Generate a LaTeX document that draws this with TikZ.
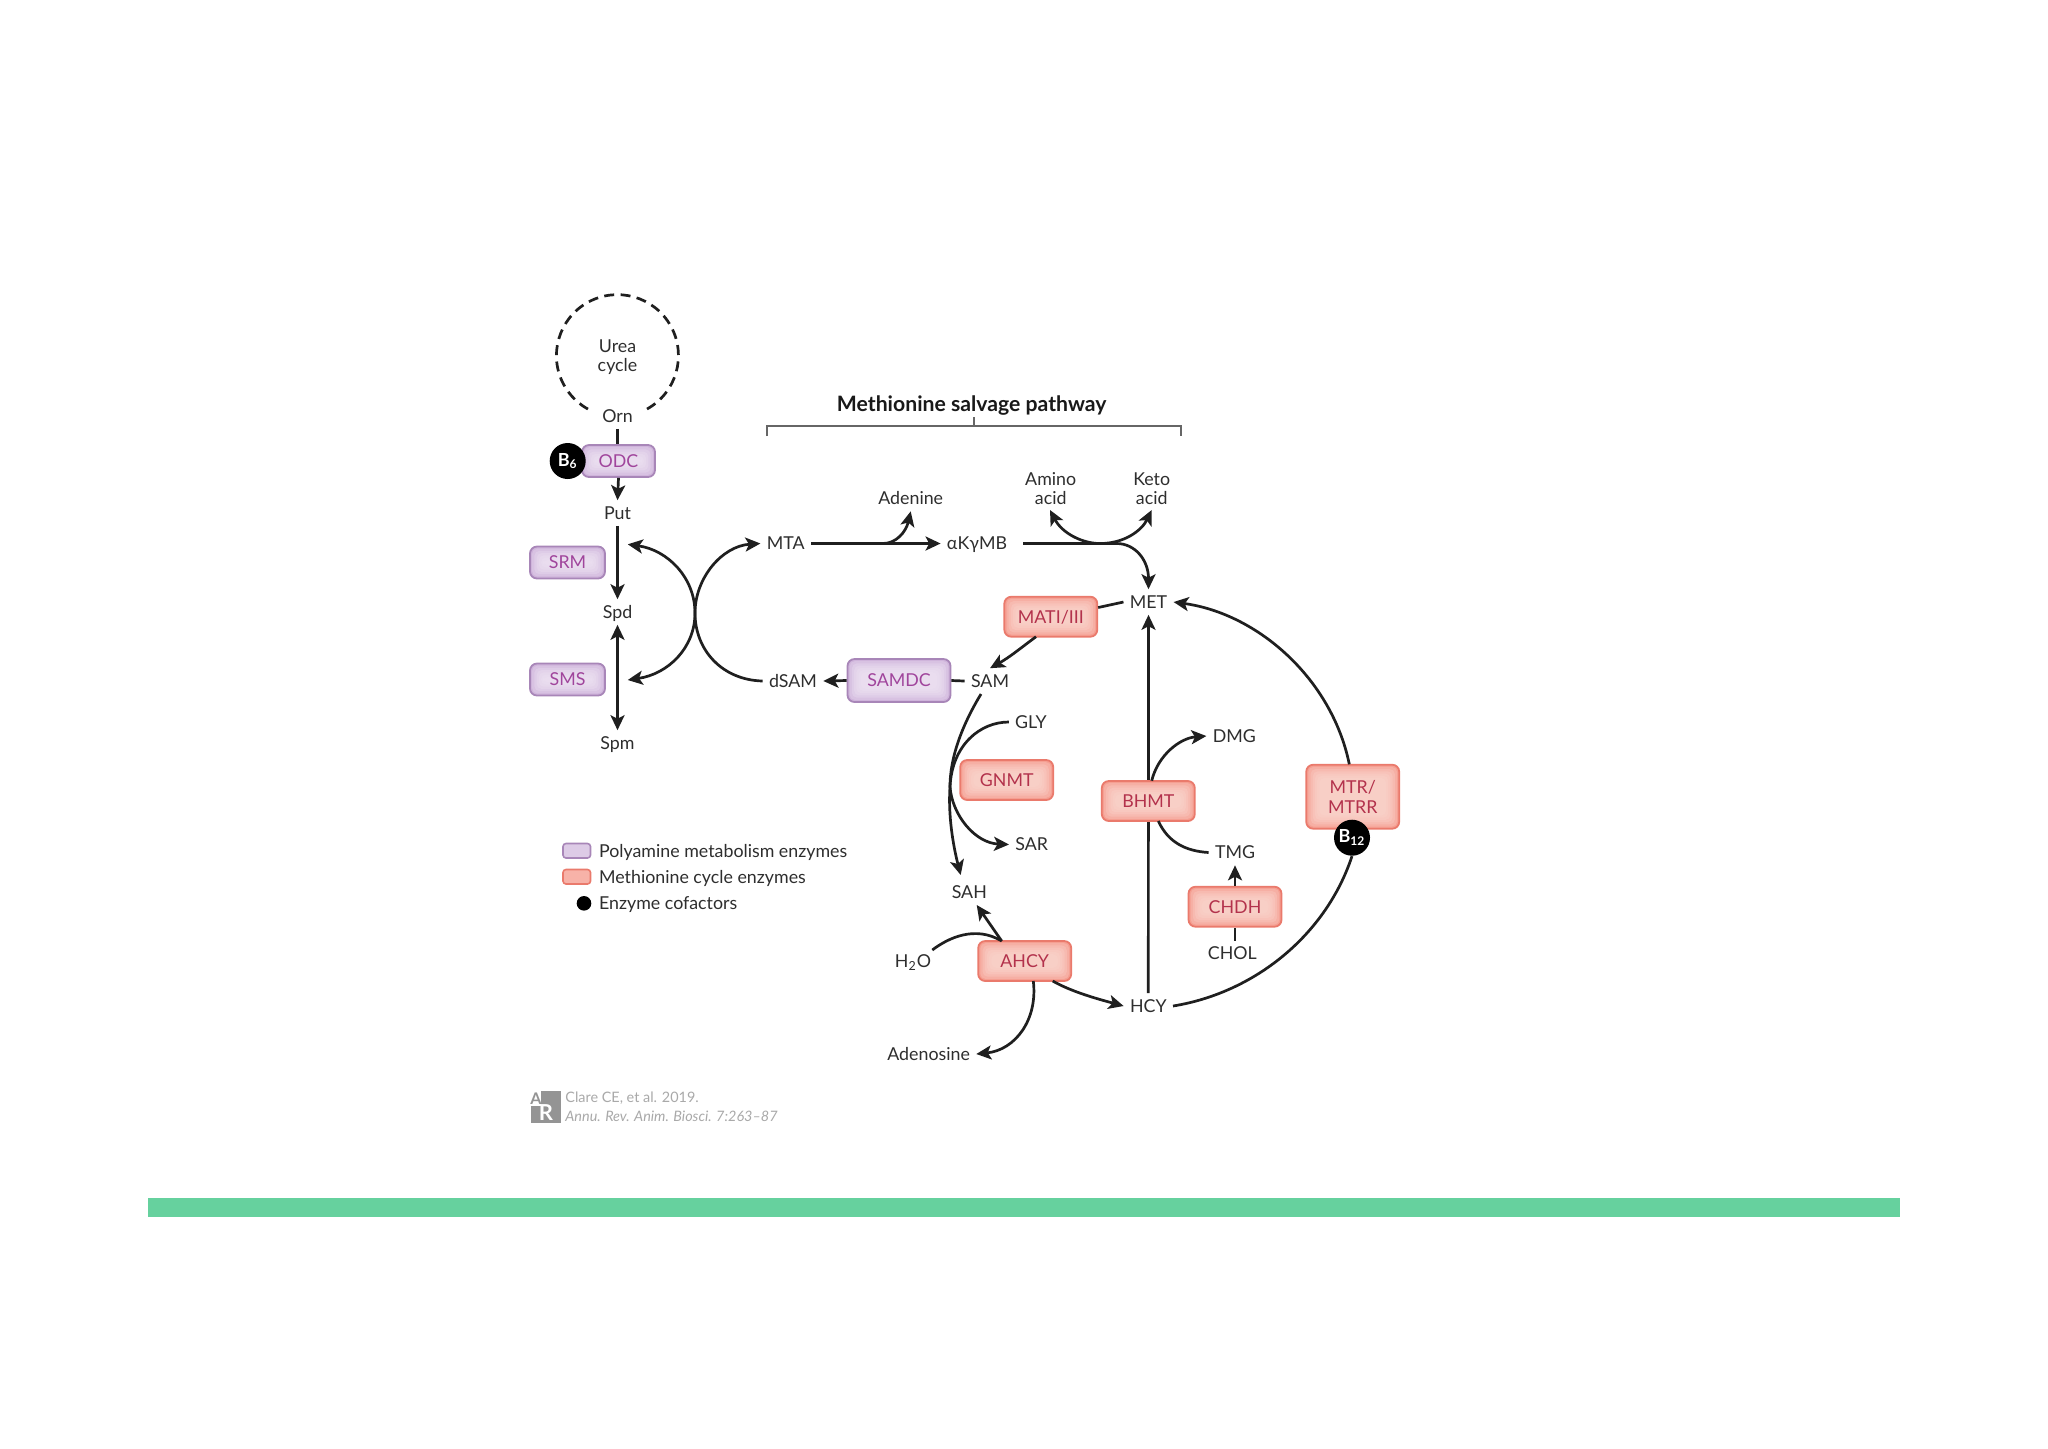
\documentclass[tikz,border=0pt]{standalone}
\usepackage{fontspec}
\setmainfont{Lato}
\usetikzlibrary{arrows.meta}
\definecolor{txt}{HTML}{2E2E2E}
\definecolor{metB}{HTML}{EA7A6C}
\definecolor{metE}{HTML}{F59F92}
\definecolor{metC}{HTML}{FBD6CE}
\definecolor{metT}{HTML}{B3324C}
\definecolor{polB}{HTML}{A886B8}
\definecolor{polE}{HTML}{CFB4DB}
\definecolor{polC}{HTML}{EFE4F3}
\definecolor{polT}{HTML}{A0459C}
\definecolor{bar}{HTML}{66D19E}
\definecolor{capt}{HTML}{A9A9A9}
\tikzset{
  sg/.style={text height=6.4pt, text depth=0pt},
  lblm/.style={font=\fontsize{8.9}{9.6}\selectfont, text=txt, inner sep=3pt, align=center},
  lbl/.style={lblm, sg},
  glow/.style n args={2}{path picture={
    \foreach \i in {1,...,6}{
      \fill[#1,opacity=.3,rounded corners=2.5pt]
        ([shift={(\i*1.1pt,-\i*1.1pt)}]path picture bounding box.north west) rectangle
        ([shift={(-\i*1.1pt,\i*1.1pt)}]path picture bounding box.south east);
    }}},
  enz/.style={draw=metB, fill=metE, line width=.9pt, rounded corners=3.5pt, glow={metC}{},
     font=\fontsize{8.9}{9.8}\selectfont, text=metT, align=center, inner sep=0pt},
  pol/.style={draw=polB, fill=polE, line width=.9pt, rounded corners=3.5pt, glow={polC}{},
     font=\fontsize{8.9}{9.8}\selectfont, text=polT, align=center, inner sep=0pt},
  cof/.style={circle, fill=black, text=white, inner sep=0pt, minimum size=18pt,
     font=\bfseries\fontsize{9}{9}\selectfont},
  conn/.style={draw=black!88, line width=1.35pt},
  arr/.style={conn, -{Stealth[length=7.5pt,width=7pt,inset=1.8pt]}},
  darr/.style={conn, {Stealth[length=7.5pt,width=7pt,inset=1.8pt]}-{Stealth[length=7.5pt,width=7pt,inset=1.8pt]}},
}
\begin{document}
\begin{tikzpicture}[x=.5pt,y=-.5pt]
\path[use as bounding box, fill=white] (0,0) rectangle (2048,1448);
\fill[bar] (148,1198) rectangle (1900,1217);

% urea cycle
\draw[line width=1.35pt, draw=black!88, dash pattern=on 5pt off 3.2pt]
  (647,409) arc[start angle=-61,end angle=243,radius=61 *.5pt];
\node[lblm] (urea) at (617.5,357.5) {Urea\\cycle};

% metabolites
\node[lbl] (orn) at (617.5,416) {Orn};
\node[lbl] (put) at (617.5,513) {Put};
\node[lbl] (spd) at (617.5,612) {Spd};
\node[lbl] (spm) at (617.5,743) {Spm};
\node[lbl] (mta) at (785.7,543.5) {MTA};
\node[lbl] (akmb) at (977,543.5) {αKγMB};
\node[lbl] (aden) at (910.7,498.5) {Adenine};
\node[lblm] (amino) at (1050.7,488.5) {Amino\\acid};
\node[lblm] (keto) at (1151.7,488.5) {Keto\\acid};
\node[lbl] (met) at (1148.5,602) {MET};
\node[lbl] (dsam) at (793,681) {dSAM};
\node[lbl] (sam) at (990,681) {SAM};
\node[lbl] (gly) at (1031,722) {GLY};
\node[lbl] (sar) at (1031.7,844.5) {SAR};
\node[lbl] (sah) at (969.3,892) {SAH};
\node[lbl] (dmg) at (1234.3,736) {DMG};
\node[lbl] (tmg) at (1235,852.5) {TMG};
\node[lbl] (chol) at (1232.3,953.5) {CHOL};
\node[lbl] (hcy) at (1148.3,1006) {HCY};
\node[lbl] (hho) at (913,961) {H\textsubscript{2}O};
\node[lbl] (ados) at (928.6,1054) {Adenosine};

% enzyme boxes
\draw[conn] (orn.south) -- (617.5,445);
\node[pol,sg,minimum width=36.5pt,minimum height=16pt] (odc) at (618.5,461) {ODC};
\node[pol,sg,minimum width=37.5pt,minimum height=16pt] (srm) at (567.5,562.5) {SRM};
\node[pol,sg,minimum width=37.5pt,minimum height=16pt] (sms) at (567.5,679.5) {SMS};
\node[pol,sg,minimum width=51.5pt,minimum height=21.5pt] (samdc) at (899,680.5) {SAMDC};

% vertical HCY to MET passes behind BHMT
\draw[arr] (hcy.north) -- (met.south);

\node[enz,sg,minimum width=46.5pt,minimum height=20pt] (mati) at (1050.8,616.7) {MATI/III};
\node[enz,sg,minimum width=46.5pt,minimum height=20pt] (gnmt) at (1006.7,780) {GNMT};
\node[enz,sg,minimum width=46.5pt,minimum height=20pt] (bhmt) at (1148.3,801) {BHMT};
\node[enz,sg,minimum width=46.5pt,minimum height=20pt] (chdh) at (1235,906.7) {CHDH};
\node[enz,sg,minimum width=46.5pt,minimum height=20pt] (ahcy) at (1024.7,961) {AHCY};
\node[enz,minimum width=46.5pt,minimum height=32pt] (mtr) at (1352.7,796.7) {MTR/\\MTRR};

\node[cof] (b6) at (567.7,461) {B\textsubscript{6}};
\node[cof] (b12) at (1352,837.7) {B\textsubscript{12}};

% connector coordinates
\coordinate (cross) at (695,613);
\coordinate (spdU) at (627.7,544.3);
\coordinate (spdL) at (627.7,680);
\coordinate (brL) at (883,543.5);
\coordinate (aminoH) at (1050,510);
\coordinate (ketoH) at (1151.7,510);
\coordinate (mid) at (1100,543.5);
\coordinate (brM) at (1116.7,543.5);
\coordinate (merge) at (950,786.7);
\coordinate (sahH) at (976.7,905);
\coordinate (ahT) at (1001.7,941);
\coordinate (hhoE) at (932.3,950);
\coordinate (akE) at (1023,543.5);

% polyamine column
\draw[arr] (odc.south) -- (put.north);
\draw[arr] (put.south) -- (spd.north);
\draw[darr] (spd.south) -- (spm.north);

% crossing curves
\draw[arr] (dsam.west) .. controls (722,680) and (695,650) .. (cross)
   .. controls (695,578) and (668,550) .. (spdU);
\draw[darr] (spdL) .. controls (668,674) and (695,648) .. (cross)
   .. controls (695,578) and (722,546) .. (mta.west);

% salvage
\draw[arr] (mta.east) -- (akmb.west);
\draw[arr] (brL) .. controls (896,543.5) and (906,532) .. (aden.south);
\draw[darr] (aminoH) .. controls (1062,533) and (1082,543.5) .. (mid)
   .. controls (1125,543.5) and (1142,530) .. (ketoH);
\draw[arr] (akE) -- (brM) .. controls (1135,543.5) and (1148.5,560) .. (met.north);

% methionine cycle
\draw[conn] (met.west) -- (mati.east |- 1097,607.5);
\draw[arr] (1036,636.7) .. controls (1022,647) and (1010,657) .. (sam.north);
\draw[conn] (sam.west) -- (samdc.east);
\draw[arr] (samdc.west) -- (dsam.east);
\draw[arr] (981,694) .. controls (964,722) and (950,755) .. (merge)
   .. controls (948,815) and (953,845) .. (960.7,875);
\draw[arr] (gly.west) .. controls (980,722) and (952,745) .. (merge)
   .. controls (952,815) and (975,843) .. (sar.west);
\draw[arr] (ahT) -- (sahH);
\draw[conn] (hhoE) .. controls (948,938) and (975,925) .. (ahT);
\draw[arr] (1052.7,981) .. controls (1072,992) and (1098,999) .. (hcy.west);
\draw[arr] (1033.3,981) .. controls (1038,1020) and (1015,1050) .. (ados.east);

% BHMT, CHDH
\draw[arr] (1151.7,780.7) .. controls (1158,755) and (1180,738) .. (dmg.west);
\draw[conn] (tmg.west) .. controls (1185,851) and (1168,842) .. (1158.3,821);
\draw[arr] (chdh.north) -- (tmg.south);
\draw[conn] (chol.north -| chdh.south) -- (chdh.south);

% large circle
\draw[conn] (hcy.east) .. controls (1254.6,992.8) and (1326,935) .. (b12.south);
\draw[arr] (1349.3,764.3) .. controls (1332,679.3) and (1258.3,613.7) .. (met.east);

% title and bracket
\node[font=\bfseries\fontsize{10.6}{11}\selectfont, text=black!90, inner sep=0pt, text height=7.6pt, text depth=0pt] (title) at (971.7,403.5) {Methionine salvage pathway};
\draw[draw=black!60, line width=.8pt] (766.7,436) -- (766.7,425.7) -- (1180.7,425.7) -- (1180.7,436);
\draw[draw=black!60, line width=.8pt] (974,417) -- (974,425.7);

% legend
\draw[draw=polB, fill=polE!70!white, line width=.8pt, rounded corners=1.5pt] (563,843.5) rectangle (590.5,858) ;
\draw[draw=metB, fill=metE!80!white, line width=.8pt, rounded corners=1.5pt] (563,869.5) rectangle (590.5,884);
\fill[black] (584,903.3) circle[radius=7.3*.5pt];
\node[lbl,anchor=west,inner sep=0pt] (l1) at (598.7,851) {Polyamine metabolism enzymes};
\node[lbl,anchor=west,inner sep=0pt] (l2) at (598.7,877.3) {Methionine cycle enzymes};
\node[lbl,anchor=west,inner sep=0pt] (l3) at (598.7,903.3) {Enzyme cofactors};

% logo and credit
\fill[black!42] (531,1091) rectangle (561,1122.5);
\fill[white] (531,1091) rectangle (541,1106);
\node[text=black!42,font=\bfseries\fontsize{8}{8}\selectfont,inner sep=0pt] (logoA) at (536,1099) {A};
\node[text=white,font=\bfseries\fontsize{11}{11}\selectfont,inner sep=0pt] (logoR) at (546,1113) {R};
\node[font=\fontsize{7.2}{8}\selectfont,text=capt,anchor=west,inner sep=0pt,text height=5.2pt,text depth=0pt] (c1) at (565,1097.5) {Clare CE, et al. 2019.};
\node[font=\itshape\fontsize{7.2}{8}\selectfont,text=capt,anchor=west,inner sep=0pt,text height=5.2pt,text depth=0pt] (c2) at (565,1116) {Annu. Rev. Anim. Biosci. 7:263–87};
\end{tikzpicture}
\end{document}
